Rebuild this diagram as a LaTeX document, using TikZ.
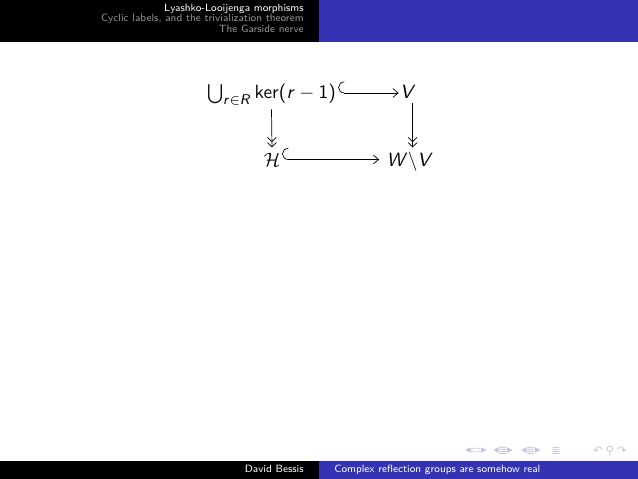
\documentclass[tikz,border=0pt]{standalone}
\usepackage{amsmath}
\usepackage[no-math]{fontspec}
\newfontfamily\djv{DejaVu Sans}
\usetikzlibrary{arrows.meta}
\DeclareMathAlphabet{\mathsfit}{OT1}{cmss}{m}{sl}
\SetSymbolFont{operators}{normal}{OT1}{cmss}{m}{n}
\SetSymbolFont{operators}{bold}{OT1}{cmss}{bx}{n}
\definecolor{bblue}{RGB}{51,51,179}
\definecolor{navgray}{RGB}{196,196,224}
\definecolor{hgray}{RGB}{150,150,150}
\tikzset{
  hdr/.style={font=\fontsize{6}{7}\selectfont\sffamily, inner sep=0pt},
  mth/.style={font=\fontsize{11}{13}\selectfont\sffamily, inner sep=0pt, anchor=base},
  hookar/.style={line width=0.4pt, {Hooks[right,length=3.5pt,width=13pt]}-{Straight Barb[length=3pt,width=5pt]}},
  vtip/.style={line width=0.4pt, -{Straight Barb[length=2.5pt,width=5pt]Straight Barb[length=2.5pt,width=5pt]}},
  nav/.style={font=\fontsize{6.5}{6.5}\selectfont\djv, text=navgray, inner sep=0pt, anchor=center}
}
\begin{document}
\begin{tikzpicture}[x=0.56871pt,y=-0.56871pt]
\useasboundingbox (0,0) rectangle (638,479);
% header
\fill[black] (0,0) rectangle (319,42);
\fill[bblue] (319,0) rectangle (638,42);
\node[hdr, anchor=base east, text=white] (h1) at (304,11.5) {Lyashko-Looijenga morphisms};
\node[hdr, anchor=base east, text=hgray] (h2) at (304,22) {Cyclic labels, and the trivialization theorem};
\node[hdr, anchor=base east, text=hgray] (h3) at (304,32.5) {The Garside nerve};
% footer
\fill[black] (0,461) rectangle (319,479);
\fill[bblue] (319,461) rectangle (638,479);
\node[hdr, anchor=base east, text=white] (f1) at (304,473) {David Bessis};
\node[hdr, anchor=base west, text=white] (f2) at (334,473) {Complex reflection groups are somehow real};
% navigation symbols
\node[nav] (n1) at (468,451) {◂};
\node[nav] (n2) at (476,451) {▭};
\node[nav] (n3) at (484,451) {▸};
\node[nav] (n4) at (496,451) {◂};
\node[nav] (n5) at (503,451) {≣};
\node[nav] (n6) at (510,451) {▸};
\node[nav] (n7) at (524,451) {◂};
\node[nav] (n8) at (531,451) {≣};
\node[nav] (n9) at (538,451) {▸};
\node[nav] (n10) at (556,451) {≣};
\node[nav] (n11) at (598,451) {↶};
\node[nav] (n12) at (610,451) {⚲};
\node[nav] (n13) at (622,451) {↷};
% diagram
\node[mth] (tl) at (271.5,98.5) {$\bigcup_{\mathsfit{r}\in \mathsfit{R}}\mathrm{ker}(\mathsfit{r}-1)$};
\node[mth] (v) at (408,98.5) {$\mathsfit{V}$};
\node[mth] (h) at (272,167) {$\mathcal{H}$};
\node[mth] (wv) at (410,167) {$\mathsfit{W}\backslash \mathsfit{V}$};
\draw[hookar] ([shift={(2,-5.5)}]tl.base east) -- ([shift={(-1,-5.5)}]v.base west);
\draw[hookar] ([shift={(1.5,-7.5)}]h.base east) -- ([shift={(-7,-7.5)}]wv.base west);
\draw[vtip] ([shift={(0,11)}]tl.base) -- ([shift={(0,-19.5)}]h.base);
\draw[vtip] ([shift={(4.7,5)}]v.base) -- ([shift={(2.7,-19.5)}]wv.base);
\end{tikzpicture}
\end{document}
